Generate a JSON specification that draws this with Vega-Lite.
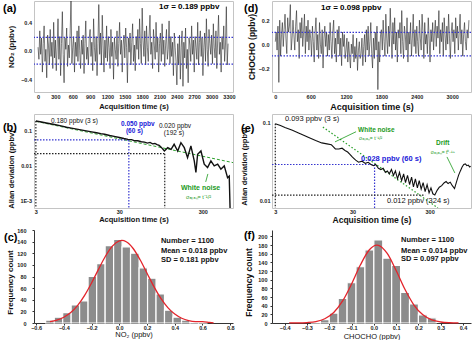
{
"$schema":"https://vega.github.io/schema/vega-lite/v6.json",
"padding":{"left":2,"top":0,"right":0,"bottom":0},
"bounds":"flush",
"columns":2,
"spacing":{"row":22,"column":39},
"config":{
 "font":"Liberation Sans",
 "view":{"stroke":"#c4c4c4","strokeWidth":1},
 "axis":{"grid":false,"ticks":false,"domain":false,"labelFont":"Liberation Sans","labelFontSize":5.5,"labelFontWeight":"bold","labelColor":"#222","titleFont":"Liberation Sans","titleFontWeight":"bold","titleColor":"#111","labelFlush":false,"tickCount":100},
 "text":{"font":"Liberation Sans"}
},
"concat":[
 {"width":199,"height":91,
  "layer":[
   {"data":{"values":[{"x":0,"y":0.05},{"x":15,"y":-0.12},{"x":30,"y":0.28},{"x":45,"y":-0.05},{"x":60,"y":0.18},{"x":75,"y":-0.3},{"x":90,"y":0.1},{"x":105,"y":0.35},{"x":120,"y":-0.15},{"x":135,"y":0.02},{"x":150,"y":-0.38},{"x":165,"y":0.22},{"x":180,"y":0.08},{"x":195,"y":-0.2},{"x":210,"y":0.3},{"x":225,"y":-0.08},{"x":240,"y":0.12},{"x":255,"y":-0.25},{"x":270,"y":0.4},{"x":285,"y":-0.1},
{"x":300,"y":0.15},{"x":315,"y":-0.28},{"x":330,"y":0.05},{"x":345,"y":0.45},{"x":360,"y":-0.12},{"x":375,"y":0.2},{"x":390,"y":-0.35},{"x":405,"y":0.1},{"x":420,"y":0.55},{"x":435,"y":-0.05},{"x":450,"y":-0.45},{"x":465,"y":0.18},{"x":480,"y":0.02},{"x":495,"y":0.32},{"x":510,"y":-0.22},{"x":525,"y":0.08},{"x":540,"y":-0.1},{"x":555,"y":0.25},{"x":570,"y":0.75},{"x":585,"y":-0.18},
{"x":600,"y":0.05},{"x":615,"y":0.2},{"x":630,"y":-0.3},{"x":645,"y":0.12},{"x":660,"y":-0.08},{"x":675,"y":0.28},{"x":690,"y":-0.15},{"x":705,"y":0.35},{"x":720,"y":0},{"x":735,"y":-0.25},{"x":750,"y":0.15},{"x":765,"y":-0.05},{"x":780,"y":0.22},{"x":795,"y":-0.32},{"x":810,"y":0.1},{"x":825,"y":0.42},{"x":840,"y":-0.12},{"x":855,"y":0.05},{"x":870,"y":-0.2},{"x":885,"y":0.18},
{"x":900,"y":0.3},{"x":915,"y":-0.08},{"x":930,"y":0.12},{"x":945,"y":-0.28},{"x":960,"y":0.45},{"x":975,"y":0.05},{"x":990,"y":-0.15},{"x":1005,"y":0.2},{"x":1020,"y":-0.35},{"x":1035,"y":0.1},{"x":1050,"y":0.65},{"x":1065,"y":-0.05},{"x":1080,"y":0.25},{"x":1095,"y":-0.2},{"x":1110,"y":0.5},{"x":1125,"y":0.08},{"x":1140,"y":-0.3},{"x":1155,"y":0.15},{"x":1170,"y":-0.1},{"x":1185,"y":0.35},
{"x":1200,"y":-0.15},{"x":1215,"y":0.2},{"x":1230,"y":0.05},{"x":1245,"y":-0.25},{"x":1260,"y":0.3},{"x":1275,"y":-0.08},{"x":1290,"y":0.12},{"x":1305,"y":-0.4},{"x":1320,"y":0.18},{"x":1335,"y":0.02},{"x":1350,"y":-0.12},{"x":1365,"y":0.28},{"x":1380,"y":-0.22},{"x":1395,"y":0.1},{"x":1410,"y":0.4},{"x":1425,"y":-0.05},{"x":1440,"y":0.15},{"x":1455,"y":-0.3},{"x":1470,"y":0.08},{"x":1485,"y":0.22},
{"x":1500,"y":-0.1},{"x":1515,"y":0.32},{"x":1530,"y":0.05},{"x":1545,"y":-0.45},{"x":1560,"y":0.18},{"x":1575,"y":-0.02},{"x":1590,"y":0.25},{"x":1605,"y":-0.2},{"x":1620,"y":0.12},{"x":1635,"y":0.38},{"x":1650,"y":-0.15},{"x":1665,"y":0.08},{"x":1680,"y":-0.28},{"x":1695,"y":0.2},{"x":1710,"y":0.02},{"x":1725,"y":0.3},{"x":1740,"y":-0.12},{"x":1755,"y":0.45},{"x":1770,"y":0.1},{"x":1785,"y":-0.18},
{"x":1800,"y":0.6},{"x":1815,"y":0.15},{"x":1830,"y":-0.08},{"x":1845,"y":0.28},{"x":1860,"y":-0.2},{"x":1875,"y":0.35},{"x":1890,"y":0.05},{"x":1905,"y":-0.15},{"x":1920,"y":0.22},{"x":1935,"y":0.5},{"x":1950,"y":-0.05},{"x":1965,"y":0.12},{"x":1980,"y":-0.25},{"x":1995,"y":0.3},{"x":2010,"y":0.08},{"x":2025,"y":-0.12},{"x":2040,"y":0.4},{"x":2055,"y":-0.02},{"x":2070,"y":0.18},{"x":2085,"y":-0.3},
{"x":2100,"y":0.1},{"x":2115,"y":0.25},{"x":2130,"y":-0.15},{"x":2145,"y":0.38},{"x":2160,"y":-0.05},{"x":2175,"y":0.15},{"x":2190,"y":-0.22},{"x":2205,"y":0.08},{"x":2220,"y":0.3},{"x":2235,"y":-0.12},{"x":2250,"y":0.02},{"x":2265,"y":0.42},{"x":2280,"y":-0.18},{"x":2295,"y":0.2},{"x":2310,"y":-0.08},{"x":2325,"y":0.12},{"x":2340,"y":-0.35},{"x":2355,"y":0.25},{"x":2370,"y":0.05},{"x":2385,"y":-0.15},
{"x":2400,"y":-0.48},{"x":2415,"y":0.1},{"x":2430,"y":-0.2},{"x":2445,"y":0.22},{"x":2460,"y":-0.4},{"x":2475,"y":0.05},{"x":2490,"y":0.28},{"x":2505,"y":-0.5},{"x":2520,"y":0.12},{"x":2535,"y":-0.1},{"x":2550,"y":0.32},{"x":2565,"y":-0.25},{"x":2580,"y":0.02},{"x":2595,"y":-0.45},{"x":2610,"y":0.18},{"x":2625,"y":0.08},{"x":2640,"y":-0.15},{"x":2655,"y":0.35},{"x":2670,"y":-0.05},{"x":2685,"y":0.15},
{"x":2700,"y":-0.3},{"x":2715,"y":0.2},{"x":2730,"y":0.05},{"x":2745,"y":-0.12},{"x":2760,"y":0.4},{"x":2775,"y":-0.2},{"x":2790,"y":0.12},{"x":2805,"y":0.28},{"x":2820,"y":-0.08},{"x":2835,"y":0.18},{"x":2850,"y":-0.35},{"x":2865,"y":0.05},{"x":2880,"y":0.25},{"x":2895,"y":-0.15},{"x":2910,"y":0.45},{"x":2925,"y":0.02},{"x":2940,"y":-0.22},{"x":2955,"y":0.3},{"x":2970,"y":0.1},{"x":2985,"y":-0.05},
{"x":3000,"y":0.22},{"x":3015,"y":-0.18},{"x":3030,"y":0.38},{"x":3045,"y":0.05},{"x":3060,"y":-0.1},{"x":3075,"y":0.28},{"x":3090,"y":-0.25},{"x":3105,"y":0.15},{"x":3120,"y":0.5},{"x":3135,"y":-0.05},{"x":3150,"y":0.12},{"x":3165,"y":-0.3},{"x":3180,"y":0.2},{"x":3195,"y":0.02},{"x":3210,"y":0.35},{"x":3225,"y":-0.15},{"x":3240,"y":0.08},{"x":3255,"y":0.62},{"x":3270,"y":-0.2},{"x":3285,"y":0.1}]},
    "mark":{"type":"line","color":"#262626","strokeWidth":0.6,"clip":true},
    "encoding":{
     "x":{"field":"x","type":"quantitative","scale":{"domain":[-70,3370],"nice":false},"axis":{"values":[0,300,600,900,1200,1500,1800,2100,2400,2700,3000,3300],"tickCount":100,"format":"d","labelOverlap":false,"title":"Acquisition time (s)","titleFontSize":7.5,"labelPadding":2.5,"titlePadding":2.5}},
     "y":{"field":"y","type":"quantitative","scale":{"domain":[-0.58,0.7],"nice":false},"axis":{"values":[-0.4,0,0.4],"tickCount":100,"format":".1f","labelOverlap":false,"title":"NO₂ (ppbv)","titleFontSize":8,"labelPadding":2.5,"minExtent":15,"maxExtent":15,"titlePadding":4}}}},
   {"data":{"values":[{"y":0.189},{"y":-0.189}]},"mark":{"type":"rule","color":"#3535d0","strokeDash":[1.5,1.5],"strokeWidth":1.2},"encoding":{"y":{"field":"y","type":"quantitative"}}},
   {"data":{"values":[{"x":-606,"y":0.587,"label":"(a)"}]},"mark":{"type":"text","align":"left","baseline":"middle","fontSize":11,"fontWeight":"bold"},"encoding":{"x":{"field":"x","type":"quantitative"},"y":{"field":"y","type":"quantitative"},"text":{"field":"label"}}},
   {"data":{"values":[{"x":2091,"y":0.616,"label":"1σ = 0.189 ppbv"}]},"mark":{"type":"text","align":"left","baseline":"middle","fontSize":8,"fontWeight":"bold"},"encoding":{"x":{"field":"x","type":"quantitative"},"y":{"field":"y","type":"quantitative"},"text":{"field":"label"}}}
  ]},
 {"width":199,"height":91,
  "layer":[
   {"data":{"values":[{"x":0,"y":0.02},{"x":15,"y":0.1},{"x":30,"y":-0.05},{"x":45,"y":0.15},{"x":60,"y":-0.32},{"x":75,"y":0.2},{"x":90,"y":-0.1},{"x":105,"y":0.08},{"x":120,"y":0.18},{"x":135,"y":-0.02},{"x":150,"y":0.12},{"x":165,"y":0.25},{"x":180,"y":0.05},{"x":195,"y":-0.08},{"x":210,"y":0.22},{"x":225,"y":0.1},{"x":240,"y":0.15},{"x":255,"y":0.33},{"x":270,"y":-0.05},{"x":285,"y":0.05},
{"x":300,"y":0.2},{"x":315,"y":0.08},{"x":330,"y":-0.05},{"x":345,"y":0.15},{"x":360,"y":0.28},{"x":375,"y":0.02},{"x":390,"y":0.12},{"x":405,"y":-0.12},{"x":420,"y":0.18},{"x":435,"y":0.05},{"x":450,"y":0.22},{"x":465,"y":-0.02},{"x":480,"y":0.1},{"x":495,"y":0.25},{"x":510,"y":-0.08},{"x":525,"y":0.15},{"x":540,"y":0.02},{"x":555,"y":0.2},{"x":570,"y":-0.05},{"x":585,"y":0.12},
{"x":600,"y":0.05},{"x":615,"y":-0.1},{"x":630,"y":0.15},{"x":645,"y":0.02},{"x":660,"y":-0.15},{"x":675,"y":0.1},{"x":690,"y":0.22},{"x":705,"y":-0.05},{"x":720,"y":0.08},{"x":735,"y":-0.12},{"x":750,"y":0.18},{"x":765,"y":0},{"x":780,"y":-0.08},{"x":795,"y":0.12},{"x":810,"y":-0.2},{"x":825,"y":0.05},{"x":840,"y":0.15},{"x":855,"y":-0.02},{"x":870,"y":0.1},{"x":885,"y":-0.1},
{"x":900,"y":0.08},{"x":915,"y":-0.05},{"x":930,"y":0.18},{"x":945,"y":0.02},{"x":960,"y":-0.12},{"x":975,"y":0.1},{"x":990,"y":0.2},{"x":1005,"y":-0.08},{"x":1020,"y":0.05},{"x":1035,"y":-0.15},{"x":1050,"y":0.12},{"x":1065,"y":0},{"x":1080,"y":0.15},{"x":1095,"y":-0.1},{"x":1110,"y":0.05},{"x":1125,"y":-0.18},{"x":1140,"y":0.1},{"x":1155,"y":-0.02},{"x":1170,"y":0.08},{"x":1185,"y":-0.12},
{"x":1200,"y":-0.05},{"x":1215,"y":0.05},{"x":1230,"y":-0.15},{"x":1245,"y":0.02},{"x":1260,"y":-0.1},{"x":1275,"y":-0.2},{"x":1290,"y":0},{"x":1305,"y":-0.08},{"x":1320,"y":0.08},{"x":1335,"y":-0.15},{"x":1350,"y":-0.02},{"x":1365,"y":-0.12},{"x":1380,"y":0.05},{"x":1395,"y":-0.22},{"x":1410,"y":-0.05},{"x":1425,"y":0.02},{"x":1440,"y":-0.12},{"x":1455,"y":-0.08},{"x":1470,"y":0.05},{"x":1485,"y":-0.18},
{"x":1500,"y":-0.02},{"x":1515,"y":0.08},{"x":1530,"y":-0.15},{"x":1545,"y":0.12},{"x":1560,"y":-0.05},{"x":1575,"y":0.15},{"x":1590,"y":-0.1},{"x":1605,"y":0.02},{"x":1620,"y":0.18},{"x":1635,"y":-0.08},{"x":1650,"y":-0.2},{"x":1665,"y":0.05},{"x":1680,"y":-0.12},{"x":1695,"y":0.1},{"x":1710,"y":-0.05},{"x":1725,"y":0.15},{"x":1740,"y":-0.38},{"x":1755,"y":0.02},{"x":1770,"y":-0.15},{"x":1785,"y":0.08},
{"x":1800,"y":0.12},{"x":1815,"y":-0.05},{"x":1830,"y":0.2},{"x":1845,"y":0.02},{"x":1860,"y":-0.1},{"x":1875,"y":0.25},{"x":1890,"y":0.05},{"x":1905,"y":-0.08},{"x":1920,"y":0.15},{"x":1935,"y":-0.02},{"x":1950,"y":0.3},{"x":1965,"y":0.08},{"x":1980,"y":-0.12},{"x":1995,"y":0.18},{"x":2010,"y":0},{"x":2025,"y":0.22},{"x":2040,"y":-0.05},{"x":2055,"y":0.1},{"x":2070,"y":-0.15},{"x":2085,"y":0.12},
{"x":2100,"y":0.05},{"x":2115,"y":0.18},{"x":2130,"y":-0.08},{"x":2145,"y":0.28},{"x":2160,"y":0.02},{"x":2175,"y":-0.12},{"x":2190,"y":0.15},{"x":2205,"y":0.08},{"x":2220,"y":-0.05},{"x":2235,"y":0.22},{"x":2250,"y":-0.15},{"x":2265,"y":0.1},{"x":2280,"y":0},{"x":2295,"y":0.18},{"x":2310,"y":-0.1},{"x":2325,"y":0.05},{"x":2340,"y":0.25},{"x":2355,"y":-0.02},{"x":2370,"y":0.12},{"x":2385,"y":-0.08},
{"x":2400,"y":0.15},{"x":2415,"y":0.02},{"x":2430,"y":-0.1},{"x":2445,"y":0.2},{"x":2460,"y":0.05},{"x":2475,"y":-0.05},{"x":2490,"y":0.25},{"x":2505,"y":0.1},{"x":2520,"y":-0.12},{"x":2535,"y":0.18},{"x":2550,"y":0},{"x":2565,"y":0.08},{"x":2580,"y":-0.08},{"x":2595,"y":0.22},{"x":2610,"y":0.05},{"x":2625,"y":-0.15},{"x":2640,"y":0.12},{"x":2655,"y":0.02},{"x":2670,"y":0.18},{"x":2685,"y":-0.05},
{"x":2700,"y":0.1},{"x":2715,"y":0.2},{"x":2730,"y":-0.02},{"x":2745,"y":0.15},{"x":2760,"y":0.05},{"x":2775,"y":0.28},{"x":2790,"y":-0.08},{"x":2805,"y":0.12},{"x":2820,"y":0.02},{"x":2835,"y":0.18},{"x":2850,"y":-0.1},{"x":2865,"y":0.22},{"x":2880,"y":0.08},{"x":2895,"y":-0.05},{"x":2910,"y":0.15},{"x":2925,"y":0},{"x":2940,"y":0.25},{"x":2955,"y":0.05},{"x":2970,"y":-0.12},{"x":2985,"y":0.1},
{"x":3000,"y":0.18},{"x":3015,"y":0.02},{"x":3030,"y":0.12},{"x":3045,"y":-0.08},{"x":3060,"y":0.22},{"x":3075,"y":0.05},{"x":3090,"y":0.15},{"x":3105,"y":-0.05},{"x":3120,"y":0.1},{"x":3135,"y":0.25},{"x":3150,"y":0},{"x":3165,"y":0.12},{"x":3180,"y":-0.1},{"x":3195,"y":0.08},{"x":3210,"y":0.18},{"x":3225,"y":0.02},{"x":3240,"y":-0.05},{"x":3255,"y":0.12},{"x":3270,"y":0.05},{"x":3285,"y":0.2}]},
    "mark":{"type":"line","color":"#262626","strokeWidth":0.6,"clip":true},
    "encoding":{
     "x":{"field":"x","type":"quantitative","scale":{"domain":[-56,3320],"nice":false},"axis":{"values":[0,600,1200,1800,2400,3000],"tickCount":100,"format":"d","labelOverlap":false,"title":"Acquisition time (s)","titleFontSize":9,"labelPadding":2.5,"titlePadding":2.5}},
     "y":{"field":"y","type":"quantitative","scale":{"domain":[-0.4,0.36],"nice":false},"axis":{"values":[-0.2,0,0.2],"tickCount":100,"format":".1f","labelOverlap":false,"title":"CHOCHO (ppbv)","titleFontSize":8.5,"labelPadding":3,"minExtent":12,"maxExtent":12,"titlePadding":4}}}},
   {"data":{"values":[{"y":0.098},{"y":-0.098}]},"mark":{"type":"rule","color":"#3535d0","strokeDash":[1.5,1.5],"strokeWidth":1.2},"encoding":{"y":{"field":"y","type":"quantitative"}}},
   {"data":{"values":[{"x":-531,"y":0.293,"label":"(d)"}]},"mark":{"type":"text","align":"left","baseline":"middle","fontSize":11,"fontWeight":"bold"},"encoding":{"x":{"field":"x","type":"quantitative"},"y":{"field":"y","type":"quantitative"},"text":{"field":"label"}}},
   {"data":{"values":[{"x":775,"y":0.299,"label":"1σ = 0.098 ppbv"}]},"mark":{"type":"text","align":"left","baseline":"middle","fontSize":8,"fontWeight":"bold"},"encoding":{"x":{"field":"x","type":"quantitative"},"y":{"field":"y","type":"quantitative"},"text":{"field":"label"}}}
  ]},
 {"width":199,"height":94,
  "layer":[
   {"data":{"values":[{"x":3,"y":0.18},{"x":690,"y":0.0119}]},"mark":{"type":"line","color":"#2ca02c","strokeDash":[3,2],"strokeWidth":1},
    "encoding":{
     "x":{"field":"x","type":"quantitative","scale":{"type":"log","domain":[2.85,690],"nice":false},"axis":{"values":[3,30,300],"tickCount":100,"format":"d","labelOverlap":false,"title":"Acquisition time (s)","titleFontSize":7.5,"labelPadding":1,"titlePadding":0.8}},
     "y":{"field":"y","type":"quantitative","scale":{"type":"log","domain":[0.0006,0.292],"nice":false},"axis":{"values":[0.001,0.01,0.1],"tickCount":100,"labelOverlap":false,"labelExpr":"datum.value < 0.005 ? '1E-3' : datum.value < 0.05 ? '0.01' : '0.1'","title":"Allan deviation (ppbv)","titleFontSize":7.5,"titleY":55,"labelPadding":2.5,"minExtent":15,"maxExtent":15,"titlePadding":4}}}},
   {"data":{"values":[{"x":2.85,"x2":39,"y":0.053,"y2":0.053},{"x":39,"x2":39,"y":0.053,"y2":0.0006}]},"mark":{"type":"rule","color":"#3535d0","strokeDash":[1.5,1.5],"strokeWidth":1.2},"encoding":{"x":{"field":"x","type":"quantitative"},"x2":{"field":"x2"},"y":{"field":"y","type":"quantitative"},"y2":{"field":"y2"}}},
   {"data":{"values":[{"x":2.85,"x2":105,"y":0.0214,"y2":0.0214},{"x":105,"x2":105,"y":0.0214,"y2":0.0006},{"x":3,"x2":3,"y":0.184,"y2":0.0006}]},"mark":{"type":"rule","color":"#222","strokeDash":[1.5,1.5],"strokeWidth":1.2},"encoding":{"x":{"field":"x","type":"quantitative"},"x2":{"field":"x2"},"y":{"field":"y","type":"quantitative"},"y2":{"field":"y2"}}},
   {"data":{"values":[{"x":3,"y":0.184},{"x":3.5,"y":0.172},{"x":4,"y":0.162},{"x":5,"y":0.146},{"x":6,"y":0.134},{"x":7,"y":0.122},{"x":8,"y":0.115},{"x":10,"y":0.104},{"x":12,"y":0.096},{"x":14,"y":0.09},{"x":16,"y":0.085},{"x":18,"y":0.08},{"x":20,"y":0.077},{"x":23,"y":0.071},{"x":26,"y":0.067},{"x":30,"y":0.062},{"x":34,"y":0.058},{"x":38,"y":0.055},{"x":42,"y":0.054},{"x":46,"y":0.05},{"x":50,"y":0.05},{"x":55,"y":0.047},{"x":60,"y":0.046},{"x":65,"y":0.043},{"x":70,"y":0.045},{"x":75,"y":0.041},{"x":80,"y":0.042},{"x":85,"y":0.039},{"x":90,"y":0.037},{"x":95,"y":0.033},{"x":104,"y":0.0256},{"x":114,"y":0.0318},{"x":125,"y":0.0286},{"x":136,"y":0.0398},{"x":150,"y":0.0256},{"x":164,"y":0.0443},{"x":180,"y":0.0318},{"x":197,"y":0.0165},{"x":216,"y":0.0356},{"x":237,"y":0.0133},{"x":248,"y":0.0062},{"x":260,"y":0.0206},{"x":285,"y":0.0256},{"x":312,"y":0.0107},{"x":342,"y":0.0086},{"x":375,"y":0.0133},{"x":411,"y":0.0096},{"x":452,"y":0.0107},{"x":494,"y":0.0077},{"x":542,"y":0.0096},{"x":594,"y":0.0044},{"x":622,"y":0.0049},{"x":639,"y":0.0004}]},
    "mark":{"type":"line","color":"#111","strokeWidth":1.4,"clip":true},"encoding":{"x":{"field":"x","type":"quantitative"},"y":{"field":"y","type":"quantitative"}}},
   {"data":{"values":[{"x":4.55,"y":0.184,"label":"0.180 ppbv (3 s)"},{"x":89.3,"y":0.133,"label":"0.020 ppbv"},{"x":102.5,"y":0.0855,"label":"(192 s)"}]},"mark":{"type":"text","align":"left","baseline":"middle","fontSize":6.5,"color":"#111"},"encoding":{"x":{"field":"x","type":"quantitative"},"y":{"field":"y","type":"quantitative"},"text":{"field":"label"}}},
   {"data":{"values":[{"x":31.4,"y":0.154,"label":"0.050 ppbv"},{"x":36,"y":0.0956,"label":"(60 s)"}]},"mark":{"type":"text","align":"left","baseline":"middle","fontSize":6.5,"fontWeight":"bold","color":"#2020d8"},"encoding":{"x":{"field":"x","type":"quantitative"},"y":{"field":"y","type":"quantitative"},"text":{"field":"label"}}},
   {"data":{"values":[{"x":164,"y":0.00225,"label":"White noise"}]},"mark":{"type":"text","align":"left","baseline":"middle","fontSize":7,"fontWeight":"bold","color":"#1c9a1c"},"encoding":{"x":{"field":"x","type":"quantitative"},"y":{"field":"y","type":"quantitative"},"text":{"field":"label"}}},
   {"data":{"values":[{"x":189,"y":0.00124,"label":"σₐₗₗₐₙ= t⁻¹/²"}]},"mark":{"type":"text","align":"left","baseline":"middle","fontSize":5.5,"color":"#1c9a1c"},"encoding":{"x":{"field":"x","type":"quantitative"},"y":{"field":"y","type":"quantitative"},"text":{"field":"label"}}},
   {"data":{"values":[{"x":325,"y":0.00334},{"x":345,"y":0.00565}]},"mark":{"type":"line","color":"#1c9a1c","strokeWidth":0.8},"encoding":{"x":{"field":"x","type":"quantitative"},"y":{"field":"y","type":"quantitative"}}},
   {"data":{"values":[{"x":1.21,"y":0.116,"label":"(b)"}]},"mark":{"type":"text","align":"left","baseline":"middle","fontSize":11,"fontWeight":"bold"},"encoding":{"x":{"field":"x","type":"quantitative"},"y":{"field":"y","type":"quantitative"},"text":{"field":"label"}}}
  ]},
 {"width":199,"height":94,
  "layer":[
   {"data":{"values":[{"x":12.4,"y":0.088},{"x":384,"y":0.008}]},"mark":{"type":"line","color":"#2ca02c","strokeDash":[1.5,2],"strokeWidth":1.2,"clip":true},
    "encoding":{
     "x":{"field":"x","type":"quantitative","scale":{"type":"log","domain":[2.72,1030],"nice":false},"axis":{"values":[3,30,300],"tickCount":100,"format":"d","labelOverlap":false,"title":"Acquisition time (s)","titleFontSize":8.5,"labelPadding":1,"titlePadding":0.5}},
     "y":{"field":"y","type":"quantitative","scale":{"type":"log","domain":[0.008,0.1295],"nice":false},"axis":{"values":[0.01,0.1],"tickCount":100,"labelOverlap":false,"labelExpr":"datum.value < 0.05 ? '0.01' : '0.1'","title":"Allan deviation (ppbv)","titleFontSize":7.5,"titleY":52,"labelPadding":2,"minExtent":20,"maxExtent":20,"titlePadding":4}}}},
   {"data":{"values":[{"x":2.72,"x2":58,"y":0.029,"y2":0.029},{"x":58,"x2":58,"y":0.029,"y2":0.008}]},"mark":{"type":"rule","color":"#3535d0","strokeDash":[1.5,1.5],"strokeWidth":1.2},"encoding":{"x":{"field":"x","type":"quantitative"},"x2":{"field":"x2"},"y":{"field":"y","type":"quantitative"},"y2":{"field":"y2"}}},
   {"data":{"values":[{"x":2.72,"x2":262,"y":0.0117,"y2":0.0117},{"x":3,"x2":3,"y":0.097,"y2":0.008}]},"mark":{"type":"rule","color":"#222","strokeDash":[1.5,1.5],"strokeWidth":1.2},"encoding":{"x":{"field":"x","type":"quantitative"},"x2":{"field":"x2"},"y":{"field":"y","type":"quantitative"},"y2":{"field":"y2"}}},
   {"data":{"values":[{"x":3,"y":0.097},{"x":3.5,"y":0.092},{"x":4,"y":0.087},{"x":5,"y":0.08},{"x":6,"y":0.074},{"x":7,"y":0.069},{"x":8,"y":0.065},{"x":10,"y":0.059},{"x":12,"y":0.055},{"x":14,"y":0.0535},{"x":16,"y":0.052},{"x":17,"y":0.049},{"x":18,"y":0.046},{"x":20,"y":0.046},{"x":22,"y":0.047},{"x":24,"y":0.044},{"x":26,"y":0.042},{"x":28,"y":0.039},{"x":30,"y":0.036},{"x":33,"y":0.033},{"x":36,"y":0.031},{"x":40,"y":0.032},{"x":44,"y":0.03},{"x":48,"y":0.031},{"x":52,"y":0.029},{"x":56,"y":0.028},{"x":60,"y":0.029},{"x":65,"y":0.026},{"x":70,"y":0.025},{"x":75,"y":0.026},{"x":80,"y":0.023},{"x":85,"y":0.024},{"x":90,"y":0.022},{"x":96,"y":0.025},{"x":102,"y":0.021},{"x":108,"y":0.024},{"x":115,"y":0.019},{"x":122,"y":0.023},{"x":130,"y":0.018},{"x":138,"y":0.022},{"x":146,"y":0.017},{"x":155,"y":0.021},{"x":165,"y":0.016},{"x":175,"y":0.02},{"x":185,"y":0.015},{"x":196,"y":0.019},{"x":208,"y":0.0145},{"x":220,"y":0.018},{"x":233,"y":0.014},{"x":247,"y":0.017},{"x":262,"y":0.013},{"x":278,"y":0.016},{"x":295,"y":0.0125},{"x":312,"y":0.0145},{"x":330,"y":0.0122},{"x":350,"y":0.0118},{"x":375,"y":0.0135},{"x":400,"y":0.0148},{"x":430,"y":0.0155},{"x":460,"y":0.0168},{"x":490,"y":0.0175},{"x":520,"y":0.0165},{"x":555,"y":0.0172},{"x":590,"y":0.0155},{"x":630,"y":0.0142},{"x":670,"y":0.0175},{"x":710,"y":0.021},{"x":750,"y":0.024},{"x":790,"y":0.027},{"x":830,"y":0.029},{"x":870,"y":0.0295},{"x":910,"y":0.028},{"x":950,"y":0.0285},{"x":990,"y":0.027},{"x":1020,"y":0.0275}]},
    "mark":{"type":"line","color":"#111","strokeWidth":1.1,"clip":true},"encoding":{"x":{"field":"x","type":"quantitative"},"y":{"field":"y","type":"quantitative"}}},
   {"data":{"values":[{"x":4.0,"y":0.112,"label":"0.093 ppbv (3 s)"},{"x":83.8,"y":0.00983,"label":"0.012 ppbv (324 s)"}]},"mark":{"type":"text","align":"left","baseline":"middle","fontSize":7.5,"color":"#111"},"encoding":{"x":{"field":"x","type":"quantitative"},"y":{"field":"y","type":"quantitative"},"text":{"field":"label"}}},
   {"data":{"values":[{"x":38.7,"y":0.0342,"label":"0.028 ppbv (60 s)"}]},"mark":{"type":"text","align":"left","baseline":"middle","fontSize":7.5,"fontWeight":"bold","color":"#2020d8"},"encoding":{"x":{"field":"x","type":"quantitative"},"y":{"field":"y","type":"quantitative"},"text":{"field":"label"}}},
   {"data":{"values":[{"x":35.5,"y":0.081,"label":"White noise"},{"x":362,"y":0.055,"label":"Drift"}]},"mark":{"type":"text","align":"left","baseline":"middle","fontSize":6.5,"fontWeight":"bold","color":"#1c9a1c"},"encoding":{"x":{"field":"x","type":"quantitative"},"y":{"field":"y","type":"quantitative"},"text":{"field":"label"}}},
   {"data":{"values":[{"x":36.5,"y":0.0637,"label":"σₐₗₗₐₙ= t⁻¹/²"},{"x":311,"y":0.0421,"label":"σₐₗₗₐₙ= t⁰·¹⁹"}]},"mark":{"type":"text","align":"left","baseline":"middle","fontSize":5,"color":"#1c9a1c"},"encoding":{"x":{"field":"x","type":"quantitative"},"y":{"field":"y","type":"quantitative"},"text":{"field":"label"}}},
   {"data":{"values":[{"g":"a","x":33.4,"y":0.0766},{"g":"a","x":17.8,"y":0.0567},{"g":"b","x":503,"y":0.0363},{"g":"b","x":636,"y":0.0226}]},"mark":{"type":"line","color":"#1c9a1c","strokeWidth":0.8},"encoding":{"x":{"field":"x","type":"quantitative"},"y":{"field":"y","type":"quantitative"},"detail":{"field":"g"}}},
   {"data":{"values":[{"x":1.08,"y":0.083,"label":"(e)"}]},"mark":{"type":"text","align":"left","baseline":"middle","fontSize":11,"fontWeight":"bold"},"encoding":{"x":{"field":"x","type":"quantitative"},"y":{"field":"y","type":"quantitative"},"text":{"field":"label"}}}
  ]},
 {"width":199,"height":93,"view":{"stroke":null},
  "layer":[
   {"data":{"values":[{"x":-0.531,"x2":-0.469,"y":5},{"x":-0.469,"x2":-0.408,"y":10},{"x":-0.408,"x2":-0.347,"y":18},{"x":-0.347,"x2":-0.286,"y":31},{"x":-0.286,"x2":-0.225,"y":38},{"x":-0.225,"x2":-0.163,"y":80},{"x":-0.163,"x2":-0.102,"y":102},{"x":-0.102,"x2":-0.041,"y":133},{"x":-0.041,"x2":0.02,"y":144},{"x":0.02,"x2":0.081,"y":131},{"x":0.081,"x2":0.143,"y":120},{"x":0.143,"x2":0.204,"y":95},{"x":0.204,"x2":0.265,"y":77},{"x":0.265,"x2":0.326,"y":50},{"x":0.326,"x2":0.387,"y":22},{"x":0.387,"x2":0.449,"y":10},{"x":0.449,"x2":0.51,"y":5},{"x":0.51,"x2":0.571,"y":2},{"x":0.571,"x2":0.632,"y":1}]},
    "mark":{"type":"rect","color":"#8c8c8c","stroke":"white","strokeWidth":1.2},
    "encoding":{
     "x":{"field":"x","type":"quantitative","scale":{"domain":[-0.615,0.82],"nice":false},"axis":{"values":[-0.6,-0.4,-0.2,0,0.2,0.4,0.6,0.8],"tickCount":100,"format":".1f","labelOverlap":false,"title":"NO₂ (ppbv)","titleFontSize":7.5,"titleFontWeight":"normal","domain":true,"domainColor":"#333","ticks":true,"tickSize":2,"tickColor":"#333","labelPadding":0,"titlePadding":0}},
     "x2":{"field":"x2"},
     "y":{"field":"y","type":"quantitative","scale":{"domain":[0,160],"nice":false},"axis":{"values":[0,20,40,60,80,100,120,140,160],"tickCount":100,"labelOverlap":false,"title":"Frequency count","titleFontSize":8,"titleY":52,"domain":true,"domainColor":"#333","ticks":true,"tickSize":2,"tickColor":"#333","labelPadding":6,"minExtent":16,"maxExtent":16,"titlePadding":4}},
     "y2":{"datum":0}}},
   {"data":{"values":[{"x":-0.5,"y":2.4},{"x":-0.45,"y":5},{"x":-0.4,"y":9.9},{"x":-0.35,"y":18},{"x":-0.3,"y":30.3},{"x":-0.25,"y":47.5},{"x":-0.2,"y":68.8},{"x":-0.15,"y":92.3},{"x":-0.1,"y":114.8},{"x":-0.05,"y":132.3},{"x":0,"y":141.3},{"x":0.018,"y":142},{"x":0.05,"y":139.8},{"x":0.1,"y":128.2},{"x":0.15,"y":108.8},{"x":0.2,"y":85.7},{"x":0.25,"y":62.5},{"x":0.3,"y":42.2},{"x":0.35,"y":26.4},{"x":0.4,"y":15.3},{"x":0.45,"y":8.2},{"x":0.5,"y":4.1},{"x":0.55,"y":2.4},{"x":0.6,"y":2.2},{"x":0.65,"y":1},{"x":0.68,"y":0.3}]},
    "mark":{"type":"line","color":"#e3242b","strokeWidth":1.3,"interpolate":"monotone"},"encoding":{"x":{"field":"x","type":"quantitative"},"y":{"field":"y","type":"quantitative"}}},
   {"data":{"values":[{"x":0.3,"y":141,"label":"Number = 1100"},{"x":0.3,"y":124,"label":"Mean = 0.018 ppbv"},{"x":0.3,"y":109,"label":"SD = 0.181 ppbv"}]},"mark":{"type":"text","align":"left","baseline":"middle","fontSize":7.5,"fontWeight":"bold","color":"#111"},"encoding":{"x":{"field":"x","type":"quantitative"},"y":{"field":"y","type":"quantitative"},"text":{"field":"label"}}},
   {"data":{"values":[{"x":-0.831,"y":146,"label":"(c)"}]},"mark":{"type":"text","align":"left","baseline":"middle","fontSize":11,"fontWeight":"bold"},"encoding":{"x":{"field":"x","type":"quantitative"},"y":{"field":"y","type":"quantitative"},"text":{"field":"label"}}}
  ]},
 {"width":199,"height":93,"view":{"stroke":null},
  "layer":[
   {"data":{"values":[{"x":-0.28,"x2":-0.24,"y":2},{"x":-0.24,"x2":-0.2,"y":8},{"x":-0.2,"x2":-0.16,"y":23},{"x":-0.16,"x2":-0.12,"y":57},{"x":-0.12,"x2":-0.08,"y":93},{"x":-0.08,"x2":-0.04,"y":130},{"x":-0.04,"x2":0,"y":169},{"x":0,"x2":0.04,"y":192},{"x":0.04,"x2":0.08,"y":150},{"x":0.08,"x2":0.12,"y":133},{"x":0.12,"x2":0.16,"y":71},{"x":0.16,"x2":0.2,"y":44},{"x":0.2,"x2":0.24,"y":19},{"x":0.24,"x2":0.28,"y":12}]},
    "mark":{"type":"rect","color":"#8c8c8c","stroke":"white","strokeWidth":1.2},
    "encoding":{
     "x":{"field":"x","type":"quantitative","scale":{"domain":[-0.457,0.436],"nice":false},"axis":{"values":[-0.4,-0.3,-0.2,-0.1,0,0.1,0.2,0.3,0.4],"tickCount":100,"format":".1f","labelOverlap":false,"title":"CHOCHO (ppbv)","titleFontSize":7.5,"titleFontWeight":"normal","domain":true,"domainColor":"#333","ticks":true,"tickSize":2,"tickColor":"#333","labelPadding":0,"titlePadding":1.5}},
     "x2":{"field":"x2"},
     "y":{"field":"y","type":"quantitative","scale":{"domain":[0,215],"nice":false},"axis":{"values":[0,20,40,60,80,100,120,140,160,180,200],"tickCount":100,"labelOverlap":false,"title":"Frequency count","titleFontSize":8.5,"titleY":52,"domain":true,"domainColor":"#333","ticks":true,"tickSize":2,"tickColor":"#333","labelPadding":3,"minExtent":15,"maxExtent":15,"titlePadding":4}},
     "y2":{"datum":0}}},
   {"data":{"values":[{"x":-0.38,"y":0.1},{"x":-0.34,"y":0.2},{"x":-0.3,"y":1},{"x":-0.26,"y":3.3},{"x":-0.22,"y":9.8},{"x":-0.18,"y":24.4},{"x":-0.14,"y":51},{"x":-0.1,"y":90.2},{"x":-0.06,"y":134.5},{"x":-0.02,"y":169.3},{"x":0.014,"y":180},{"x":0.02,"y":179.7},{"x":0.06,"y":160.8},{"x":0.1,"y":121.5},{"x":0.14,"y":77.4},{"x":0.18,"y":41.6},{"x":0.22,"y":18.9},{"x":0.26,"y":7.2},{"x":0.3,"y":2.3},{"x":0.34,"y":0.6},{"x":0.38,"y":0.1}]},
    "mark":{"type":"line","color":"#e3242b","strokeWidth":1.3,"interpolate":"monotone"},"encoding":{"x":{"field":"x","type":"quantitative"},"y":{"field":"y","type":"quantitative"}}},
   {"data":{"values":[{"x":0.122,"y":192,"label":"Number = 1100"},{"x":0.122,"y":167.2,"label":"Mean = 0.014 ppbv"},{"x":0.122,"y":147.3,"label":"SD = 0.097 ppbv"}]},"mark":{"type":"text","align":"left","baseline":"middle","fontSize":7.5,"fontWeight":"bold","color":"#111"},"encoding":{"x":{"field":"x","type":"quantitative"},"y":{"field":"y","type":"quantitative"},"text":{"field":"label"}}},
   {"data":{"values":[{"x":-0.583,"y":200,"label":"(f)"}]},"mark":{"type":"text","align":"left","baseline":"middle","fontSize":11,"fontWeight":"bold"},"encoding":{"x":{"field":"x","type":"quantitative"},"y":{"field":"y","type":"quantitative"},"text":{"field":"label"}}}
  ]}
]
}
